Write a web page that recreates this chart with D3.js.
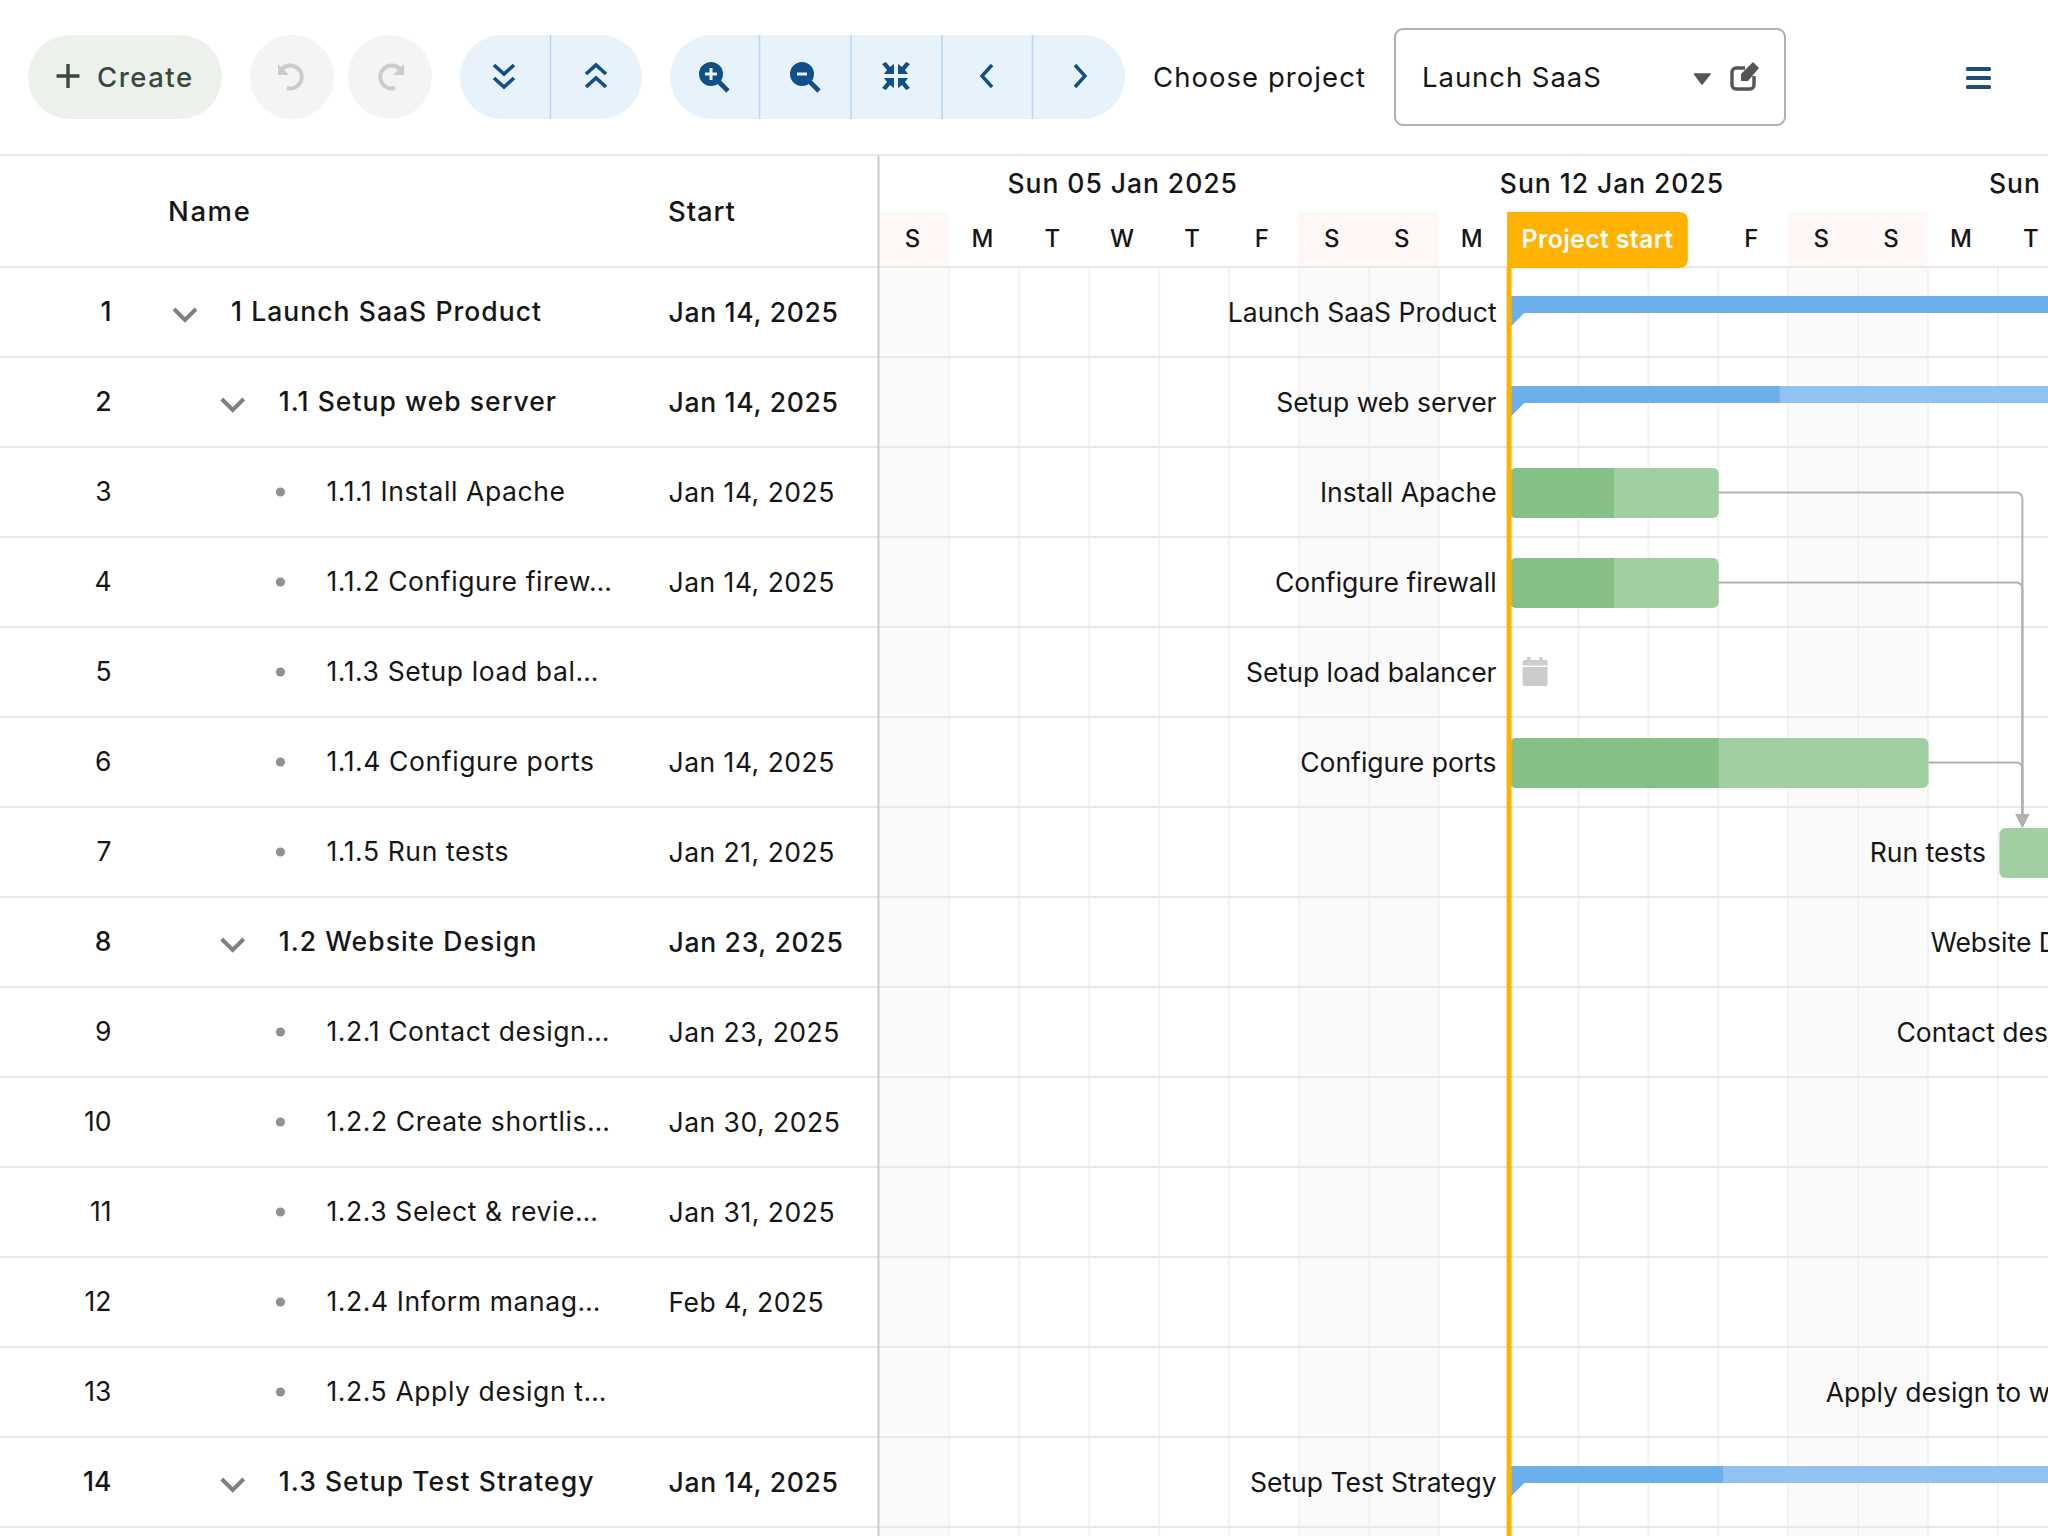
<!DOCTYPE html>
<html>
<head>
<meta charset="utf-8">
<script src="https://cdn.jsdelivr.net/npm/d3@7"></script>
<style>
  html, body { margin: 0; padding: 0; background: #fff; overflow: hidden; }
  svg { display: block; }
  text { font-family: "Inter", "Open Sans", sans-serif; fill: #161616; }
</style>
</head>
<body>
<svg id="chart" width="2048" height="1536"></svg>
<script>
// table columns
var rowNumbers = [1, 2, 3, 4, 5, 6, 7, 8, 9, 10, 11, 12, 13, 14];
var taskNames = [
  "1 Launch SaaS Product", "1.1 Setup web server", "1.1.1 Install Apache",
  "1.1.2 Configure firew…", "1.1.3 Setup load bal…", "1.1.4 Configure ports",
  "1.1.5 Run tests", "1.2 Website Design", "1.2.1 Contact design…",
  "1.2.2 Create shortlis…", "1.2.3 Select & revie…", "1.2.4 Inform manag…",
  "1.2.5 Apply design t…", "1.3 Setup Test Strategy"
];
var taskLevels = [0, 1, 2, 2, 2, 2, 2, 1, 2, 2, 2, 2, 2, 1];
var startLabels = [
  "Jan 14, 2025", "Jan 14, 2025", "Jan 14, 2025", "Jan 14, 2025", "",
  "Jan 14, 2025", "Jan 21, 2025", "Jan 23, 2025", "Jan 23, 2025",
  "Jan 30, 2025", "Jan 31, 2025", "Feb 4, 2025", "", "Jan 14, 2025"
];

// gantt side
var ganttLabels = [
  "Launch SaaS Product", "Setup web server", "Install Apache", "Configure firewall",
  "Setup load balancer", "Configure ports", "Run tests", "Website Design",
  "Contact designers", "Create shortlist of designers", "Select & review submissions",
  "Inform managers", "Apply design to website", "Setup Test Strategy"
];
var endLabels = [
  "Feb 18, 2025", "Jan 23, 2025", "Jan 17, 2025", "Jan 17, 2025", "",
  "Jan 20, 2025", "Jan 23, 2025", "Feb 10, 2025", "Jan 30, 2025",
  "Jan 31, 2025", "Feb 4, 2025", "Feb 5, 2025", "", "Feb 18, 2025"
];
var progress = [0.5, 0.43, 0.5, 0.5, 0, 0.5, 0, 0, 0, 0, 0, 0, 0, 0.0875];
var unscheduledAnchors = { 4: "Jan 14, 2025", 12: "Jan 23, 2025" };
var dependencies = [[2, 6], [3, 6], [5, 6]];
var projectStart = "Jan 14, 2025";
var dayLetters = ["S", "M", "T", "W", "T", "F", "S"];

var parseDay = d3.utcParse("%b %d, %Y");
var weekFormat = d3.utcFormat("%a %d %b %Y");

var svg = d3.select("#chart");
var W = 2048, H = 1536;
var FONT = 26.5;

var headerTop = 155, headerBottom = 267, tableRight = 879;
var x = d3.scaleUtc()
  .domain([new Date(Date.UTC(2025, 0, 5)), new Date(Date.UTC(2025, 0, 20))])
  .range([tableRight, tableRight + 15 * 69.9]);
var y = d3.scaleBand().domain(d3.range(rowNumbers.length)).range([headerBottom, headerBottom + 1260]);

var days = d3.utcDay.range(x.domain()[0], new Date(Date.UTC(2025, 0, 22)));
var weeks = d3.utcSunday.range(x.domain()[0], new Date(Date.UTC(2025, 0, 26)));
var isWeekend = function(d) { return d.getUTCDay() == 0 || d.getUTCDay() == 6; };
var dayWidth = x(days[1]) - x(days[0]);
var markerX = x(parseDay(projectStart));

function label(g, str, px, py, opts) {
  opts = opts || {};
  return g.append("text")
    .attr("x", px).attr("y", py)
    .attr("dy", "0.35em")
    .attr("text-anchor", opts.anchor || "start")
    .style("font-size", (opts.size || FONT) + "px")
    .style("font-weight", opts.weight || 400)
    .style("letter-spacing", (opts.spacing === undefined ? 0.55 : opts.spacing) + "px")
    .style("fill", opts.color || "#161616")
    .text(str);
}

// ---- calendar background ----
var bg = svg.append("g");
bg.selectAll("rect.weekend").data(days.filter(isWeekend)).enter().append("rect")
  .attr("class", "weekend")
  .attr("x", d => x(d)).attr("width", dayWidth)
  .attr("y", headerBottom).attr("height", H - headerBottom)
  .attr("fill", "#fafafa");
bg.selectAll("rect.weekendHead").data(days.filter(isWeekend)).enter().append("rect")
  .attr("class", "weekendHead")
  .attr("x", d => x(d)).attr("width", dayWidth)
  .attr("y", 212).attr("height", headerBottom - 212)
  .attr("fill", "#fff7f6");

var gridAxis = d3.axisTop(x).tickValues(days.slice(1)).tickSize(-(H - headerBottom)).tickFormat("");
bg.append("g").attr("transform", "translate(0," + headerBottom + ")").call(gridAxis)
  .call(g => g.select(".domain").remove())
  .call(g => g.selectAll("line").attr("stroke", "#f2f2f2").attr("stroke-width", 2));

// row and header rules
var rules = bg.append("g");
rules.selectAll("line").data([headerTop, headerBottom].concat(rowNumbers.map((d, i) => y(i) + y.bandwidth())))
  .enter().append("line")
  .attr("x1", 0).attr("x2", W)
  .attr("y1", d => d).attr("y2", d => d)
  .attr("stroke", "#e8e8e8").attr("stroke-width", 2);
bg.append("line")
  .attr("x1", tableRight - 0.5).attr("x2", tableRight - 0.5)
  .attr("y1", headerTop + 1).attr("y2", H)
  .attr("stroke", "#cccccc").attr("stroke-width", 2);

// ---- table ----
var head = svg.append("g");
label(head, "Name", 168, 211, {weight: 500, size: 27.5, spacing: 1.6});
label(head, "Start", 668, 211, {weight: 500, size: 27.5, spacing: 0.9});

var rows = svg.append("g").selectAll("g").data(rowNumbers).enter().append("g")
  .attr("transform", (d, i) => "translate(0," + y(i) + ")");
rows.each(function(d, i) {
  var g = d3.select(this);
  var level = taskLevels[i];
  var isGroup = level < 2;
  var w = isGroup ? 500 : 400;
  label(g, d, 111.5, 45, {anchor: "end", weight: w, spacing: 0});
  var nameX = 231 + level * 47.7;
  label(g, taskNames[i], nameX, 45, {weight: w, spacing: isGroup ? 1.05 : 0.6});
  label(g, startLabels[i], 668.5, 46, {weight: w, spacing: isGroup ? 0.7 : 0.5});
  if (isGroup) {
    var ax = nameX - 46;
    g.append("path")
      .attr("d", "M" + (ax - 11) + ",42 L" + ax + ",53 L" + (ax + 11) + ",42")
      .attr("fill", "none").attr("stroke", "#808080").attr("stroke-width", 4);
  } else {
    g.append("circle").attr("cx", nameX - 46).attr("cy", 45).attr("r", 4.6).attr("fill", "#919191");
  }
});

// ---- timeline header ----
var timeHead = svg.append("g");
timeHead.selectAll("text.week").data(weeks).enter().append("text")
  .attr("class", "week")
  .attr("x", d => x(d) + 3.5 * dayWidth - 1)
  .attr("y", 184).attr("dy", "0.35em")
  .attr("text-anchor", "middle")
  .style("font-size", FONT + "px").style("font-weight", 500).style("letter-spacing", "0.95px")
  .text(weekFormat);
// the tag hides the three days it sits on
var tagEnd = d3.utcDay.offset(parseDay(projectStart), 3);
timeHead.selectAll("text.day")
  .data(days.filter(d => d < parseDay(projectStart) || d >= tagEnd))
  .enter().append("text")
  .attr("class", "day")
  .attr("x", d => x(d) + dayWidth / 2 - 1.5)
  .attr("y", 239).attr("dy", "0.35em")
  .attr("text-anchor", "middle")
  .style("font-size", "24px").style("font-weight", 500)
  .text(d => dayLetters[d.getUTCDay()]);

// ---- bars ----
var barsG = svg.append("g");
var defs = svg.append("defs");
var BLUE = "#6bb0ec", BLUE_L = "#90c3f1", GREEN = "#85c087", GREEN_L = "#a2cea4";

rowNumbers.forEach(function(d, i) {
  var start = parseDay(startLabels[i]), end = parseDay(endLabels[i]);
  var top = y(i);
  var cy = top + y.bandwidth() / 2;
  if (!start) {
    var anchor = parseDay(unscheduledAnchors[i]);
    label(barsG, ganttLabels[i], x(anchor) - 11.5, cy + 0.5, {anchor: "end", spacing: 0});
    if (i == 4) drawCalendar(barsG, x(anchor) + 27, cy);
    return;
  }
  var x0 = x(start) + 2, x1 = x(end) + 1;
  var xDone = x(start) + (x(end) - x(start)) * progress[i] + 1;
  if (taskLevels[i] < 2) {
    barsG.append("path")
      .attr("d", "M" + x0 + "," + (top + 29) + "H" + x1 + "V" + (top + 46) + "H" + (x0 + 14) + "L" + x0 + "," + (top + 60) + "Z")
      .attr("fill", BLUE_L);
    barsG.append("path")
      .attr("d", "M" + x0 + "," + (top + 29) + "H" + xDone + "V" + (top + 46) + "H" + (x0 + 14) + "L" + x0 + "," + (top + 60) + "Z")
      .attr("fill", BLUE);
  } else {
    defs.append("clipPath").attr("id", "bar-" + i).append("rect")
      .attr("x", x0).attr("y", top + 21).attr("width", x1 - x0).attr("height", 50).attr("rx", 6);
    barsG.append("rect")
      .attr("x", x0).attr("y", top + 21).attr("width", x1 - x0).attr("height", 50).attr("rx", 6)
      .attr("fill", GREEN_L);
    if (progress[i] > 0) {
      barsG.append("rect")
        .attr("clip-path", "url(#bar-" + i + ")")
        .attr("x", x0).attr("y", top + 21).attr("width", xDone - x0).attr("height", 50)
        .attr("fill", GREEN);
    }
  }
  label(barsG, ganttLabels[i], x(start) - 11.5, cy + 0.5, {anchor: "end", spacing: 0});
});

// dependency connectors
var linksG = svg.append("g");
dependencies.forEach(function(dep) {
  var from = dep[0], to = dep[1];
  var sx = x(parseDay(endLabels[from])) + 1;
  var sy = y(from) + y.bandwidth() / 2 + 0.5;
  var tx = x(parseDay(startLabels[to])) + 25;
  var ty = y(to) + 21;
  var p = d3.path();
  p.moveTo(sx, sy);
  p.arcTo(tx, sy, tx, ty - 13, 6);
  p.lineTo(tx, ty - 12);
  linksG.append("path").attr("d", p.toString())
    .attr("fill", "none").attr("stroke", "#b2b2b2").attr("stroke-width", 2);
  linksG.append("path")
    .attr("d", "M" + (tx - 7) + "," + (ty - 14) + "H" + (tx + 7) + "L" + tx + "," + ty + "Z")
    .attr("fill", "#b2b2b2");
});

// project start marker
var marker = svg.append("g");
marker.append("rect")
  .attr("x", markerX - 1.5).attr("y", headerBottom).attr("width", 5).attr("height", H - headerBottom)
  .attr("fill", "#ffb300");
marker.append("path")
  .attr("d", "M" + (markerX - 1) + ",212 H" + (x(tagEnd) - 38) + " a8,8 0 0 1 8,8 V260 a8,8 0 0 1 -8,8 H" + (markerX - 1) + "Z")
  .attr("fill", "#ffb300");
label(marker, "Project start", markerX + 13.5, 239.5, {weight: 600, size: 25, color: "#fff", spacing: 0.3});

// ---- toolbar ----
var bar = svg.append("g");
var NAVY = "#114f89";

function pill(x0, x1, fill) {
  bar.append("rect").attr("x", x0).attr("y", 35).attr("width", x1 - x0).attr("height", 84)
    .attr("rx", 42).attr("fill", fill);
}
function divider(px) {
  bar.append("line").attr("x1", px).attr("x2", px).attr("y1", 35).attr("y2", 119)
    .attr("stroke", "#b8d6f2").attr("stroke-width", 1.5);
}
function icon(cx, draw) {
  var g = bar.append("g").attr("transform", "translate(" + cx + ",76)");
  draw(g);
}
function stroke(g, d, color, w) {
  g.append("path").attr("d", d).attr("fill", "none").attr("stroke", color).attr("stroke-width", w);
}

pill(28, 222, "#edf1ec");
stroke(bar, "M68,64V88M56.5,76H79.5", "#374a3c", 3.4);
label(bar, "Create", 97, 77, {weight: 500, size: 27.5, color: "#374a3c", spacing: 1.5});

pill(250, 334, "#f4f4f4");
pill(348, 432, "#f4f4f4");
icon(291, g => {
  stroke(g, "M-9,-7 A11.5,11.5 0 1 1 -4,12", "#cccccc", 4);
  g.append("path").attr("d", "M-13,-12V-1H-2Z").attr("fill", "#cccccc");
});
icon(391, g => {
  stroke(g, "M9,-7 A11.5,11.5 0 1 0 4,12", "#cccccc", 4);
  g.append("path").attr("d", "M13,-12V-1H2Z").attr("fill", "#cccccc");
});

pill(460, 642, "#e8f2fb");
divider(550.5);
icon(504, g => stroke(g, "M-10,-11L0,-2L10,-11M-10,2L0,11L10,2", NAVY, 3.6));
icon(596, g => stroke(g, "M-10,-2L0,-11L10,-2M-10,11L0,2L10,11", NAVY, 3.6));

pill(670, 1125, "#e8f2fb");
[759.5, 851, 942, 1032.5].forEach(divider);
function magnifier(g, sign) {
  g.append("circle").attr("cx", -3).attr("cy", -2).attr("r", 12).attr("fill", NAVY);
  stroke(g, "M5,6L14,15", NAVY, 4.6);
  stroke(g, sign, "#e8f2fb", 3);
}
icon(714, g => magnifier(g, "M-9,-2H3M-3,-8V4"));
icon(805, g => magnifier(g, "M-8,-2H2"));
icon(896, g => {
  [[-1, -1], [1, -1], [-1, 1], [1, 1]].forEach(s => {
    g.append("path")
      .attr("d", "M" + s[0] * 2 + "," + s[1] * 2 + "H" + s[0] * 12 + "L" + s[0] * 9 + "," + s[1] * 6 + "L" + s[0] * 14 + "," + s[1] * 12 + "L" + s[0] * 10 + "," + s[1] * 14 + "L" + s[0] * 6 + "," + s[1] * 9 + "L" + s[0] * 2 + "," + s[1] * 12 + "Z")
      .attr("fill", NAVY);
  });
});
icon(987, g => stroke(g, "M5,-11L-5,0L5,11", NAVY, 3.4));
icon(1080, g => stroke(g, "M-5,-11L5,0L-5,11", NAVY, 3.4));

label(bar, "Choose project", 1153, 77, {size: 27.5, spacing: 1.05});
bar.append("rect").attr("x", 1395).attr("y", 29).attr("width", 390).attr("height", 96).attr("rx", 8)
  .attr("fill", "#fff").attr("stroke", "#b0b0b0").attr("stroke-width", 2);
label(bar, "Launch SaaS", 1422, 77, {size: 27.5, spacing: 0.95});
bar.append("path").attr("d", "M1694.5,74H1710L1702,84Z").attr("fill", "#555555").attr("stroke", "#555555").attr("stroke-width", 1.5).attr("stroke-linejoin", "round");
// edit icon
stroke(bar, "M1745,68H1736a4,4 0 0 0 -4,4V85a4,4 0 0 0 4,4H1750a4,4 0 0 0 4,-4V76", "#555555", 3.4);
bar.append("path").attr("d", "M1741,81V74L1753,62L1759,68L1748,81Z").attr("fill", "#555555");

[-8, 1, 10].forEach(dy => {
  bar.append("rect").attr("x", 1966).attr("y", 76 + dy - 1).attr("width", 25).attr("height", 4).attr("rx", 1.5).attr("fill", "#1d4f7c");
});

function drawCalendar(g, cx, cy) {
  var c = g.append("g").attr("transform", "translate(" + cx + "," + cy + ")").attr("fill", "#cccccc");
  c.append("rect").attr("x", -12.5).attr("y", -12).attr("width", 25).attr("height", 26).attr("rx", 2);
  c.append("rect").attr("x", -8).attr("y", -15).attr("width", 3.5).attr("height", 5);
  c.append("rect").attr("x", 4).attr("y", -15).attr("width", 3.5).attr("height", 5);
  c.append("rect").attr("x", -12.5).attr("y", -6.5).attr("width", 25).attr("height", 1.5).attr("fill", "#fff");
}
</script>
</body>
</html>
